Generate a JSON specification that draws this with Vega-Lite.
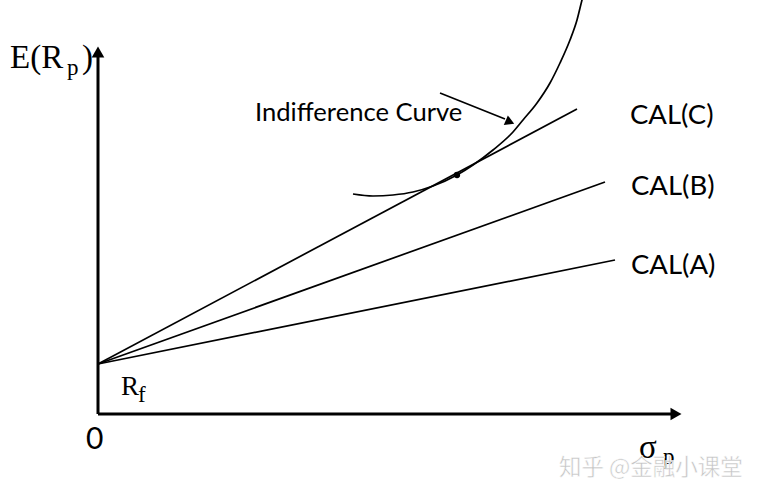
{
  "$schema": "https://vega.github.io/schema/vega-lite/v6.json",
  "width": 762,
  "height": 500,
  "autosize": {"type": "fit", "contains": "padding"},
  "padding": 0,
  "background": "white",
  "config": {"view": {"stroke": null}},
  "encoding": {
    "x": {"field": "x", "type": "quantitative", "scale": {"domain": [-0.98, 6.64], "nice": false, "zero": false}, "axis": null},
    "y": {"field": "y", "type": "quantitative", "scale": {"domain": [-0.86, 4.14], "nice": false, "zero": false}, "axis": null}
  },
  "layer": [
    {
      "data": {"values": [
        {"line": "xaxis", "x": 0, "y": 0}, {"line": "xaxis", "x": 5.78, "y": 0},
        {"line": "yaxis", "x": 0, "y": 0}, {"line": "yaxis", "x": 0, "y": 3.62}
      ]},
      "mark": {"type": "line", "color": "black", "strokeWidth": 3},
      "encoding": {"detail": {"field": "line"}}
    },
    {
      "data": {"values": [
        {"dir": "right", "x": 5.78, "y": 0},
        {"dir": "up", "x": 0, "y": 3.62}
      ]},
      "mark": {"type": "point", "filled": true, "color": "black", "opacity": 1, "size": 160},
      "encoding": {"shape": {"field": "dir", "type": "nominal", "scale": {"domain": ["right", "up"], "range": ["triangle-right", "triangle-up"]}, "legend": null}}
    },
    {
      "data": {"values": [
        {"line": "A", "x": 0, "y": 0.5}, {"line": "A", "x": 5.17, "y": 1.54},
        {"line": "B", "x": 0, "y": 0.5}, {"line": "B", "x": 5.07, "y": 2.32},
        {"line": "C", "x": 0, "y": 0.5}, {"line": "C", "x": 4.79, "y": 3.05},
        {"line": "ptr", "x": 3.42, "y": 3.21}, {"line": "ptr", "x": 4.07, "y": 2.95}
      ]},
      "mark": {"type": "line", "color": "black", "strokeWidth": 1.7},
      "encoding": {"detail": {"field": "line"}}
    },
    {
      "data": {"values": [
        {"x": 2.55, "y": 2.20}, {"x": 2.75, "y": 2.18}, {"x": 2.95, "y": 2.19},
        {"x": 3.15, "y": 2.22}, {"x": 3.35, "y": 2.28}, {"x": 3.59, "y": 2.39},
        {"x": 3.75, "y": 2.49}, {"x": 3.95, "y": 2.64}, {"x": 4.15, "y": 2.82},
        {"x": 4.25, "y": 2.94}, {"x": 4.39, "y": 3.11}, {"x": 4.52, "y": 3.31},
        {"x": 4.62, "y": 3.51}, {"x": 4.72, "y": 3.74}, {"x": 4.79, "y": 3.94},
        {"x": 4.84, "y": 4.14}, {"x": 4.88, "y": 4.29}
      ]},
      "mark": {"type": "line", "color": "black", "strokeWidth": 1.7, "interpolate": "monotone", "clip": true},
      "encoding": {"order": {"field": "x", "type": "quantitative"}}
    },
    {
      "data": {"values": [{"x": 4.12, "y": 2.92}]},
      "mark": {"type": "point", "shape": "triangle-right", "filled": true, "color": "black", "opacity": 1, "size": 110, "angle": 23}
    },
    {
      "data": {"values": [{"x": 3.59, "y": 2.39}]},
      "mark": {"type": "circle", "color": "black", "opacity": 1, "size": 40}
    },
    {
      "data": {"values": [
        {"t": "E(R", "x": -0.88, "y": 3.46},
        {"t": ")", "x": -0.16, "y": 3.46},
        {"t": "σ", "x": 5.41, "y": -0.44}
      ]},
      "mark": {"type": "text", "font": "Liberation Serif", "fontSize": 33, "align": "left", "baseline": "alphabetic", "color": "black"},
      "encoding": {"text": {"field": "t"}}
    },
    {
      "data": {"values": [
        {"t": "R", "x": 0.23, "y": 0.19}
      ]},
      "mark": {"type": "text", "font": "Liberation Serif", "fontSize": 27, "align": "left", "baseline": "alphabetic", "color": "black"},
      "encoding": {"text": {"field": "t"}}
    },
    {
      "data": {"values": [
        {"t": "p", "x": -0.31, "y": 3.39},
        {"t": "f", "x": 0.40, "y": 0.12},
        {"t": "p", "x": 5.65, "y": -0.50}
      ]},
      "mark": {"type": "text", "font": "Liberation Serif", "fontSize": 23, "align": "left", "baseline": "alphabetic", "color": "black"},
      "encoding": {"text": {"field": "t"}}
    },
    {
      "data": {"values": [
        {"t": "0", "x": -0.12, "y": -0.35}
      ]},
      "mark": {"type": "text", "font": "Lato", "fontSize": 30, "align": "left", "baseline": "alphabetic", "color": "black"},
      "encoding": {"text": {"field": "t"}}
    },
    {
      "data": {"values": [
        {"t": "Indifference Curve", "x": 1.57, "y": 2.93}
      ]},
      "mark": {"type": "text", "font": "Lato", "fontSize": 25.6, "align": "left", "baseline": "alphabetic", "color": "black"},
      "encoding": {"text": {"field": "t"}}
    },
    {
      "data": {"values": [
        {"t": "CAL(C)", "x": 5.32, "y": 2.90},
        {"t": "CAL(B)", "x": 5.33, "y": 2.19},
        {"t": "CAL(A)", "x": 5.33, "y": 1.40}
      ]},
      "mark": {"type": "text", "font": "Lato", "fontSize": 27.5, "align": "left", "baseline": "alphabetic", "color": "black"},
      "encoding": {"text": {"field": "t"}}
    },
    {
      "data": {"values": [
        {"t": "知乎 @金融小课堂", "x": 4.61, "y": -0.61}
      ]},
      "mark": {"type": "text", "font": "Noto Sans CJK SC", "fontSize": 22.5, "align": "left", "baseline": "alphabetic", "color": "#c4c4c4", "stroke": "white", "strokeWidth": 0.5},
      "encoding": {"text": {"field": "t"}}
    }
  ]
}
